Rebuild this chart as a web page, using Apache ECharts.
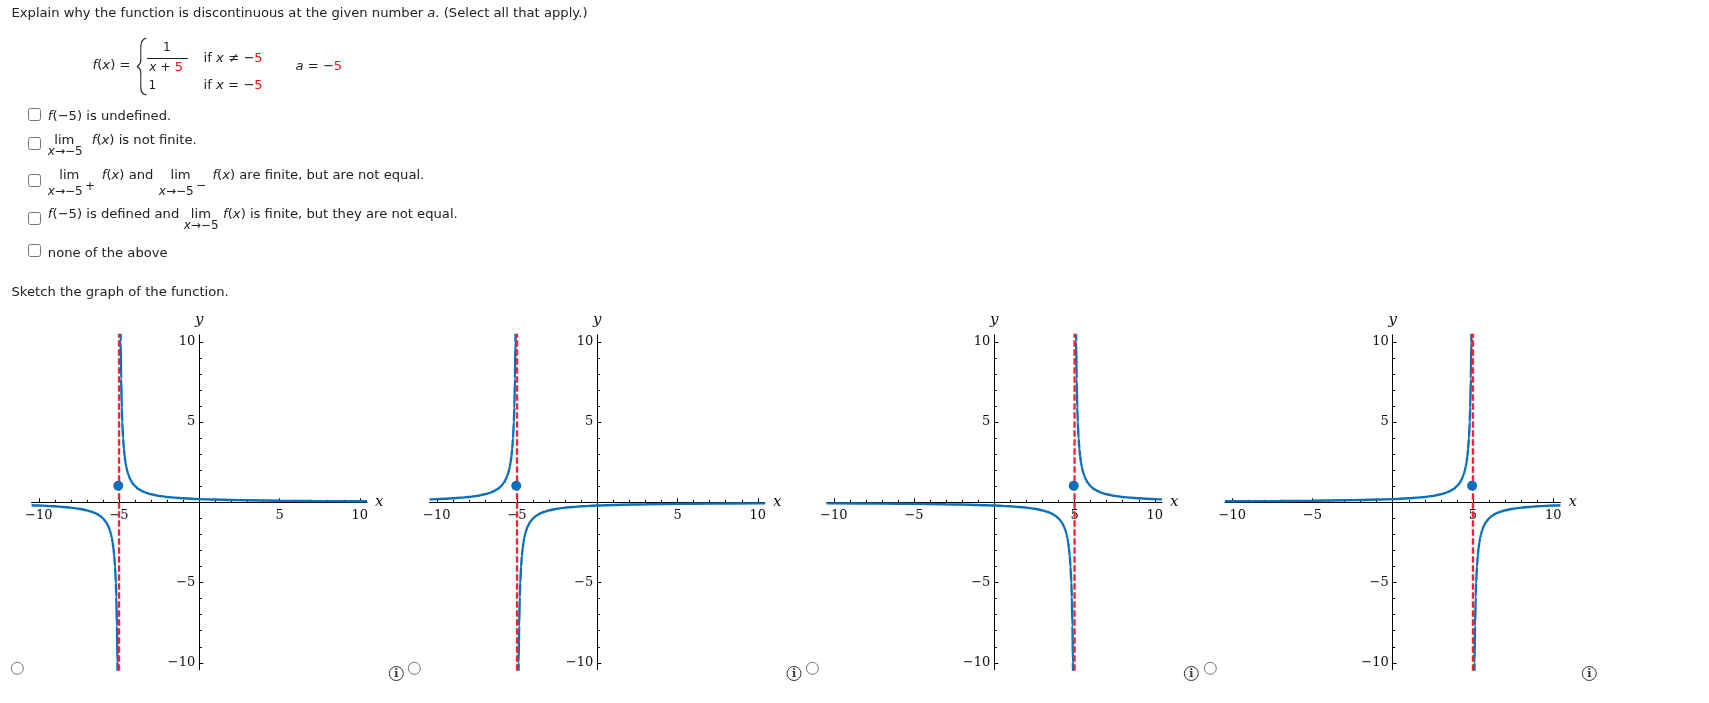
<!DOCTYPE html>
<html><head><meta charset="utf-8">
<style>html,body{margin:0;padding:0;background:#fff}#c{width:1709px;height:703px}</style>
<script src="https://cdn.jsdelivr.net/npm/echarts@6/dist/echarts.min.js"></script>
</head><body><div id="c"></div>
<script>
// ---- values ----
const majorTicks = [-10, -5, 5, 10];
const minorTicks = [-10,-9,-8,-7,-6,-5,-4,-3,-2,-1,1,2,3,4,5,6,7,8,9,10];
const tickLabelMap = {'-10':'\u221210','-5':'\u22125','5':'5','10':'10'};

// x values of the branches
const xRightOfMinus5 = [-4.905,-4.9,-4.87,-4.83,-4.8,-4.75,-4.7,-4.65,-4.6,-4.55,-4.5,-4.45,-4.4,-4.35,-4.3,-4.2,-4.1,-4,-3.8,-3.5,-3.3,-3,-2.5,-2,-1.5,-1,0,1,2,3,5,7,10,10.45];
const xLeftOfMinus5  = [-10.45,-10,-9.5,-9,-8.5,-8,-7.5,-7,-6.7,-6.5,-6.2,-6,-5.8,-5.7,-5.65,-5.6,-5.55,-5.5,-5.45,-5.4,-5.35,-5.3,-5.25,-5.2,-5.17,-5.13,-5.1,-5.095];
const xLeftOf5  = [-10.45,-10,-7,-5,-3,-2,-1,0,1,1.5,2,2.5,3,3.3,3.5,3.8,4,4.1,4.2,4.3,4.35,4.4,4.45,4.5,4.55,4.6,4.65,4.7,4.75,4.8,4.83,4.87,4.9,4.905];
const xRightOf5 = [5.095,5.1,5.13,5.17,5.2,5.25,5.3,5.35,5.4,5.45,5.5,5.55,5.6,5.65,5.7,5.8,6,6.2,6.5,6.7,7,7.5,8,8.5,9,9.5,10,10.45];

// heights: long branch (near the asymptote -> far away)
const yLongUp   = [10.5,10,7.7,5.9,5,4,3.33,2.86,2.5,2.22,2,1.82,1.67,1.54,1.43,1.25,1.11,1,0.83,0.67,0.59,0.5,0.4,0.33,0.29,0.25,0.2,0.17,0.14,0.125,0.1,0.083,0.067,0.065];
const yLongDown = [-10.5,-10,-7.7,-5.9,-5,-4,-3.33,-2.86,-2.5,-2.22,-2,-1.82,-1.67,-1.54,-1.43,-1.25,-1.11,-1,-0.83,-0.67,-0.59,-0.5,-0.4,-0.33,-0.29,-0.25,-0.2,-0.17,-0.14,-0.125,-0.1,-0.083,-0.067,-0.065];
// heights: short branch (far away -> near the asymptote)
const yShortDown = [-0.18,-0.2,-0.22,-0.25,-0.29,-0.33,-0.4,-0.5,-0.59,-0.67,-0.83,-1,-1.25,-1.43,-1.54,-1.67,-1.82,-2,-2.22,-2.5,-2.86,-3.33,-4,-5,-5.9,-7.7,-10,-10.5];
const yShortUp   = [0.18,0.2,0.22,0.25,0.29,0.33,0.4,0.5,0.59,0.67,0.83,1,1.25,1.43,1.54,1.67,1.82,2,2.22,2.5,2.86,3.33,4,5,5.9,7.7,10,10.5];

const zip = (a, b) => a.map((v, i) => [v, b[i]]);
const rev = a => a.slice().reverse();

const panels = [
  {zero:199.3,  a:-5, dotX:-5.05, dotY:1.03,
   branches:[zip(xRightOfMinus5, yLongUp), zip(xLeftOfMinus5, yShortDown)]},
  {zero:597.3,  a:-5, dotX:-5.05, dotY:1.03,
   branches:[zip(xRightOfMinus5, yLongDown), zip(xLeftOfMinus5, yShortUp)]},
  {zero:994.3,  a:5,  dotX:4.95,  dotY:1.03,
   branches:[zip(xLeftOf5, rev(yLongDown)), zip(xRightOf5, rev(yShortUp))]},
  {zero:1392.7, a:5,  dotX:4.95,  dotY:1.03,
   branches:[zip(xLeftOf5, rev(yLongUp)), zip(xRightOf5, rev(yShortDown))]},
];

// ---- styles ----
const SERIF = '"DejaVu Serif"';
const BLUE = '#0a70ba', RED = '#ff1f30', INK = '#111';
const unit = 16.05, xHalf = 10.45, yHalf = 10.43, yZero = 502.3;

const grid = [], xAxis = [], yAxis = [], series = [];
panels.forEach((p, i) => {
  grid.push({left:p.zero - xHalf*unit, width:2*xHalf*unit, top:yZero - yHalf*unit, height:2*yHalf*unit, containLabel:false});
  const fmt = v => tickLabelMap[String(v)] ?? '';
  // axes sit on the zero lines through a negative offset, so their labels stay beside them
  const xOff = -yHalf*unit, yOff = -xHalf*unit;
  xAxis.push({
    type:'value', gridIndex:i, min:-xHalf, max:xHalf, position:'bottom', offset:xOff, splitLine:{show:false},
    name:'x', nameLocation:'end', nameGap:8,
    nameTextStyle:{fontFamily:SERIF, fontStyle:'italic', fontSize:15, color:INK},
    axisLine:{show:true, onZero:false, lineStyle:{color:'#000', width:1}},
    axisTick:{show:true, inside:true, length:4, customValues:majorTicks, lineStyle:{color:'#000', width:1}},
    axisLabel:{show:true, customValues:majorTicks, formatter:fmt, margin:7, fontFamily:SERIF, fontSize:13, color:INK, hideOverlap:false, showMinLabel:true, showMaxLabel:true}
  },{
    type:'value', gridIndex:i, min:-xHalf, max:xHalf, position:'bottom', offset:xOff, splitLine:{show:false},
    axisLine:{show:false, onZero:false},
    axisTick:{show:true, inside:true, length:2.5, customValues:minorTicks, lineStyle:{color:'#000', width:1}},
    axisLabel:{show:false}
  });
  yAxis.push({
    type:'value', gridIndex:i, min:-yHalf, max:yHalf, position:'left', offset:yOff, splitLine:{show:false},
    name:'y', nameLocation:'end', nameGap:7,
    nameTextStyle:{fontFamily:SERIF, fontStyle:'italic', fontSize:15, color:INK},
    axisLine:{show:true, onZero:false, lineStyle:{color:'#000', width:1}},
    axisTick:{show:true, inside:true, length:4, customValues:majorTicks, lineStyle:{color:'#000', width:1}},
    axisLabel:{show:true, customValues:majorTicks, formatter:fmt, margin:4, fontFamily:SERIF, fontSize:13, color:INK, hideOverlap:false}
  },{
    type:'value', gridIndex:i, min:-yHalf, max:yHalf, position:'left', offset:yOff, splitLine:{show:false},
    axisLine:{show:false, onZero:false},
    axisTick:{show:true, inside:true, length:2.5, customValues:minorTicks, lineStyle:{color:'#000', width:1}},
    axisLabel:{show:false}
  });
  const xi = i*2, yi = i*2;
  p.branches.forEach(b => series.push({
    type:'line', xAxisIndex:xi, yAxisIndex:yi, data:b, showSymbol:false, smooth:0.25, smoothMonotone:'x',
    clip:false, silent:true, lineStyle:{color:BLUE, width:2.4}, z:3
  }));
  series.push({
    type:'line', xAxisIndex:xi, yAxisIndex:yi, data:[[p.a,-10.5],[p.a,10.5]], showSymbol:false, clip:false, silent:true,
    lineStyle:{color:RED, width:2.3, type:[6.5,2.5]}, z:4
  });
  series.push({
    type:'scatter', xAxisIndex:xi, yAxisIndex:yi, data:[[p.dotX,p.dotY]], symbol:'circle', symbolSize:10, silent:true,
    itemStyle:{color:BLUE, opacity:1}, z:5
  });
});

// ---- question text ----
const FONT = '"DejaVu Sans"';
const BASE = '13.15px ', SMALL = '12px ';
const rich = {
  i:{font:'italic '+BASE+FONT, fill:'#222'},
  r:{font:BASE+FONT, fill:'#ee1111'},
  s:{font:SMALL+FONT, fill:'#222'},
  si:{font:'italic '+SMALL+FONT, fill:'#222'},
};
const T = (x, y, text, opt={}) => ({type:'text', silent:true, style:Object.assign({
  x, y, text, font:BASE+FONT, fill:'#222', verticalAlign:'middle', align:'left', rich}, opt)});
const S = (x, y) => T(x, y, '{si|x}{s|\u2192\u22125}');
const L = (x1, y1, x2, y2) => ({type:'line', silent:true, shape:{x1,y1,x2,y2}, style:{stroke:'#222', lineWidth:1}});
const box = (y1) => ({type:'rect', silent:true, shape:{x:28.5, y:y1, width:12, height:12, r:2}, style:{fill:'#fff', stroke:'#767676', lineWidth:1}});
const B = (x1,y1,cpx1,cpy1,cpx2,cpy2,x2,y2) => ({type:'bezierCurve', silent:true, shape:{x1,y1,cpx1,cpy1,cpx2,cpy2,x2,y2}, style:{fill:'none', stroke:'#222', lineWidth:1.2}});

const gfx = [
  T(11.5, 13.5, 'Explain why the function is discontinuous at the given number {i|a}. (Select all that apply.)'),
  T(92.6, 66, '{i|f}({i|x}) ='),
  B(146.5,38, 142,39, 140.8,42, 140.8,47), L(140.8,47,140.8,60), B(140.8,60, 140.8,63, 139.5,65, 137,66.5),
  B(137,66.5, 139.5,68, 140.8,70, 140.8,73), L(140.8,73,140.8,87), B(140.8,87, 140.8,92, 142,94.5, 146.5,95),
  T(166.9, 47.5, '1', {align:'center', font:SMALL+FONT}),
  L(147, 58.5, 187.9, 58.5),
  T(149.3, 67.7, '{si|x} {s|+} {r|5}'),
  T(148.5, 85.7, '1', {font:SMALL+FONT}),
  T(203.6, 58.3, 'if {i|x} \u2260 \u2212{r|5}'),
  T(203.6, 85.7, 'if {i|x} = \u2212{r|5}'),
  T(295.4, 66.7, '{i|a} = \u2212{r|5}'),

  box(108.5), T(47.8, 116.7, '{i|f}(\u22125) is undefined.'),

  box(137.5), T(64.3, 140.3, 'lim', {align:'center'}), S(47.8, 152.3),
  T(91.8, 140.3, '{i|f}({i|x}) is not finite.'),

  box(174.5), T(69.3, 175.7, 'lim', {align:'center'}), S(47.8, 191.7), T(85, 186.7, '+', {font:SMALL+FONT}),
  T(101.8, 175.7, '{i|f}({i|x}) and'),
  T(180.6, 175.7, 'lim', {align:'center'}), S(158.8, 191.7), T(196, 185.7, '\u2212', {font:SMALL+FONT}),
  T(212.4, 175.7, '{i|f}({i|x}) are finite, but are not equal.'),

  box(212.5), T(47.8, 214.3, '{i|f}(\u22125) is defined and'),
  T(200.9, 214.3, 'lim', {align:'center'}), S(183.7, 226.3),
  T(223.1, 214.3, '{i|f}({i|x}) is finite, but they are not equal.'),

  box(244.5), T(47.8, 253.7, 'none of the above'),
  T(11.5, 292.3, 'Sketch the graph of the function.'),
];
// answer radios and info icons
[17.3, 414.3, 812.4, 1210.3].forEach(cx => gfx.push({type:'circle', silent:true, shape:{cx, cy:668.3, r:6}, style:{fill:'#fff', stroke:'#767676', lineWidth:1}}));
[396.3, 794, 1191.3, 1589.3].forEach(cx => {
  gfx.push({type:'circle', silent:true, shape:{cx, cy:673.5, r:7}, style:{fill:'#fff', stroke:'#333', lineWidth:1}});
  gfx.push(T(cx, 674, 'i', {align:'center', font:'bold 11px '+SERIF, fill:'#333'}));
});

const chart = echarts.init(document.getElementById('c'), null, {renderer:'canvas'});
chart.setOption({animation:false, backgroundColor:'#fff', tooltip:{show:false}, legend:{show:false},
  grid, xAxis, yAxis, series, graphic:{elements:gfx}});
</script></body></html>
